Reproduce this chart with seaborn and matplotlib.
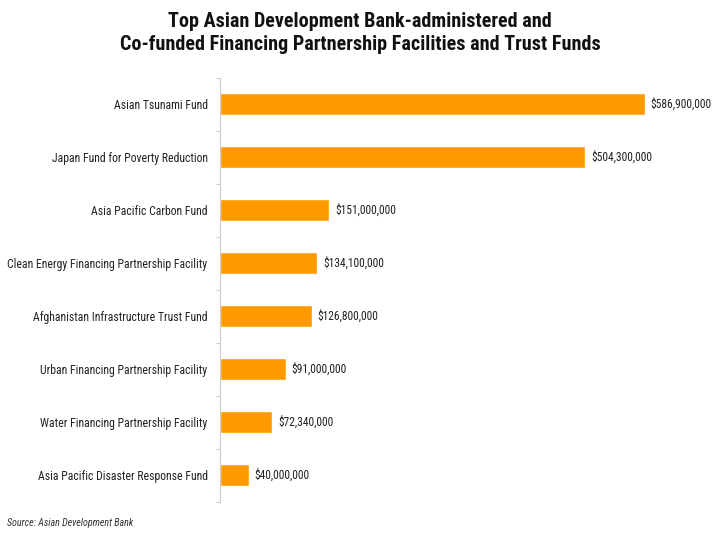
import numpy as np
import pandas as pd
import matplotlib.pyplot as plt
import seaborn as sns
from matplotlib.ticker import FixedLocator

funds = [
    "Asian Tsunami Fund",
    "Japan Fund for Poverty Reduction",
    "Asia Pacific Carbon Fund",
    "Clean Energy Financing Partnership Facility",
    "Afghanistan Infrastructure Trust Fund",
    "Urban Financing Partnership Facility",
    "Water Financing Partnership Facility",
    "Asia Pacific Disaster Response Fund",
]
amounts = [586900000, 504300000, 151000000, 134100000,
           126800000, 91000000, 72340000, 40000000]

df = pd.DataFrame({"fund": funds, "amount": amounts})

sns.set_theme(style="white")
plt.rcParams["font.family"] = ["Roboto Condensed", "Liberation Sans Narrow", "DejaVu Sans"]

fig = plt.figure(figsize=(7.2, 5.4), dpi=100)
ax = fig.add_axes([220 / 720, 38.5 / 540, 480 / 720, 424 / 540])

sns.barplot(data=df, x="amount", y="fund", color="#FF9900", saturation=1,
            width=0.4, ax=ax)

ax.set_xlim(0, 480 / 0.724 * 1e6)
ax.set_xlabel("")
ax.set_ylabel("")
ax.set_xticks([])
for s in ["top", "right", "bottom"]:
    ax.spines[s].set_visible(False)
ax.spines["left"].set_color("#cccccc")
ax.spines["left"].set_linewidth(0.8)

ax.tick_params(axis="y", which="major", length=0, pad=9, labelsize=8.5,
               labelcolor="#222222")
ax.yaxis.set_minor_locator(FixedLocator(np.arange(-0.5, len(funds), 1)))
ax.tick_params(axis="y", which="minor", length=3, color="#cccccc", width=0.8,
               left=True)

for i, v in enumerate(amounts):
    ax.text(v + 8e6, i, f"${v:,.0f}", va="center", ha="left",
            fontsize=8.3, color="#222222")

fig.text(0.5, 0.978, "Top Asian Development Bank-administered and\n"
         "Co-funded Financing Partnership Facilities and Trust Funds",
         ha="center", va="top", fontsize=14.5, fontweight="bold",
         color="#111111", linespacing=1.3)
fig.text(7 / 720, 1 - 523 / 540, "Source: Asian Development Bank",
         ha="left", va="center", fontsize=7.2, style="italic",
         color="#333333")

fig.savefig("out.png", dpi=100)
